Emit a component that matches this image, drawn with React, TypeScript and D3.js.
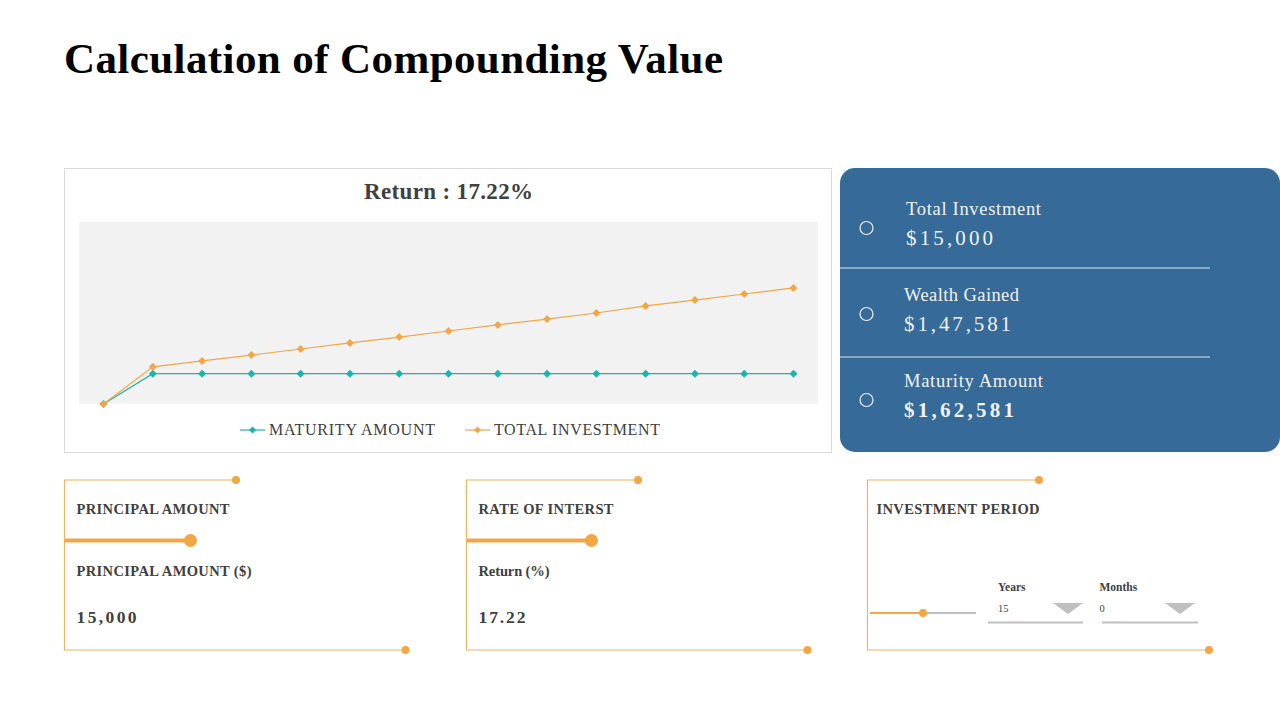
import React from 'react';
import * as d3 from 'd3';

// yearly values for the compounding chart
const years = [0, 1, 2, 3, 4, 5, 6, 7, 8, 9, 10, 11, 12, 13, 14];
const maturityAmount = [0, 15000, 15000, 15000, 15000, 15000, 15000, 15000, 15000, 15000, 15000, 15000, 15000, 15000, 15000];
const totalInvestment = [0, 18400, 21300, 24200, 27200, 30200, 33100, 36100, 39100, 42000, 45000, 48500, 51400, 54400, 57400];
const seriesNames = ['MATURITY AMOUNT', 'TOTAL INVESTMENT'];
const returnRate = '17.22';

const summaryLabels = ['Total Investment', 'Wealth Gained', 'Maturity Amount'];
const summaryValues = ['$15,000', '$1,47,581', '$1,62,581'];

const inputTitles = ['PRINCIPAL AMOUNT', 'RATE OF INTERST', 'INVESTMENT PERIOD'];
const inputLabels = ['PRINCIPAL AMOUNT ($)', 'Return (%)'];
const inputValues = ['15,000', '17.22'];
const periodYears = '15';
const periodMonths = '0';

const SERIF = '"Liberation Serif", "DejaVu Serif", serif';
const TEAL = '#1ab5ae';
const ORANGE = '#f2a646';
const LINE_ORANGE = '#f0b460';
const BLUE = '#356a99';
const TEXT = '#404040';

// widths the serif labels are spread to
const summaryLabelWidths = [135, 115, 139];
const summaryValueWidths = [87, 107, 110];
const titleWidths = [153, 135, 163];
const labelWidths = [175, 71];
const valueWidths = [60, 47];

const diamond = (cx: number, cy: number, r: number) =>
  `M${cx},${cy - r}L${cx + r},${cy}L${cx},${cy + r}L${cx - r},${cy}Z`;

function LineChart() {
  const plot = { x0: 79, x1: 818, y0: 222, y1: 404 };
  const x = d3.scaleLinear().domain([0, 14]).range([103.5, 793.5]);
  const y = d3.scaleLinear().domain([0, 90000]).range([plot.y1, plot.y0]);
  const line = d3.line<number>().x((_, i) => x(years[i])).y(d => y(d));
  const series = [
    { name: seriesNames[0], values: maturityAmount, color: TEAL },
    { name: seriesNames[1], values: totalInvestment, color: ORANGE },
  ];
  const legendX = [240, 465];

  return (
    <g>
      <rect x={64.5} y={168.5} width={767} height={284} fill="#fff" stroke="#d9d9d9" />
      <text x={364} y={199} fontFamily={SERIF} fontWeight="bold" fontSize={23} fill={TEXT} textLength={169}>
        Return : {returnRate}%
      </text>
      <rect x={plot.x0} y={plot.y0} width={plot.x1 - plot.x0} height={plot.y1 - plot.y0} fill="#f2f2f2" />
      {series.map(s => (
        <g key={s.name}>
          <path d={line(s.values) || ''} fill="none" stroke={s.color} strokeWidth={1.2} />
          {s.values.map((v, i) => (
            <path key={i} d={diamond(x(years[i]), y(v), 4)} fill={s.color} />
          ))}
        </g>
      ))}
      {series.map((s, i) => (
        <g key={'lg' + s.name}>
          <line x1={legendX[i]} x2={legendX[i] + 25} y1={430} y2={430} stroke={s.color} strokeWidth={1.2} />
          <path d={diamond(legendX[i] + 12.5, 430, 3.5)} fill={s.color} />
          <text x={legendX[i] + 29} y={435} fontFamily={SERIF} fontSize={16} fill={TEXT} textLength={166}>
            {s.name}
          </text>
        </g>
      ))}
    </g>
  );
}

function SummaryPanel() {
  const rowY = [228, 314, 400];
  return (
    <g>
      <rect x={840} y={168} width={440} height={284} rx={15} fill={BLUE} />
      {[268, 357].map(ly => (
        <line key={ly} x1={840} x2={1210} y1={ly} y2={ly} stroke="#dce6f0" strokeWidth={1.2} />
      ))}
      {summaryLabels.map((label, i) => (
        <g key={label}>
          <circle cx={866.5} cy={rowY[i]} r={6.5} fill="none" stroke="#f2f2f2" strokeWidth={1.2} />
          <text x={i === 0 ? 906 : 904} y={rowY[i] - 13} fontFamily={SERIF} fontSize={18.5} fill="#f2f2f2"
            textLength={summaryLabelWidths[i]}>
            {label}
          </text>
          <text x={i === 0 ? 906 : 904} y={rowY[i] + 17} fontFamily={SERIF} fontSize={21}
            fontWeight={i === 2 ? 'bold' : 'normal'} fill="#f2f2f2" textLength={summaryValueWidths[i]}>
            {summaryValues[i]}
          </text>
        </g>
      ))}
    </g>
  );
}

function InputFrame({ x0, topEnd, bottomEnd }: { x0: number; topEnd: number; bottomEnd: number }) {
  return (
    <g>
      <path d={`M${topEnd},480H${x0}V650H${bottomEnd}`} fill="none" stroke={LINE_ORANGE} strokeWidth={1.2} />
      <circle cx={topEnd} cy={480} r={4} fill={ORANGE} />
      <circle cx={bottomEnd} cy={650} r={4} fill={ORANGE} />
    </g>
  );
}

function InputCards() {
  const frames = [
    { x0: 64.5, topEnd: 236, bottomEnd: 405.5, knob: 190.5, tx: 76.5 },
    { x0: 466.5, topEnd: 638, bottomEnd: 807.5, knob: 591.5, tx: 478.5 },
    { x0: 867.5, topEnd: 1039, bottomEnd: 1209, knob: 0, tx: 876.5 },
  ];
  return (
    <g>
      {frames.map((f, i) => (
        <g key={i}>
          <InputFrame x0={f.x0} topEnd={f.topEnd} bottomEnd={f.bottomEnd} />
          <text x={f.tx} y={513.5} fontFamily={SERIF} fontWeight="bold" fontSize={14.5} fill={TEXT}
            textLength={titleWidths[i]}>
            {inputTitles[i]}
          </text>
          {i < 2 && (
            <g>
              <line x1={f.x0} x2={f.knob} y1={540.5} y2={540.5} stroke={ORANGE} strokeWidth={4} />
              <circle cx={f.knob} cy={540.5} r={6.5} fill={ORANGE} />
              <text x={f.tx} y={575.5} fontFamily={SERIF} fontWeight="bold" fontSize={14.5} fill={TEXT}
                textLength={labelWidths[i]}>
                {inputLabels[i]}
              </text>
              <text x={f.tx} y={623} fontFamily={SERIF} fontWeight="bold" fontSize={17.5} fill={TEXT}
                textLength={valueWidths[i]}>
                {inputValues[i]}
              </text>
            </g>
          )}
        </g>
      ))}
      {/* period slider and dropdowns */}
      <line x1={870} x2={923} y1={613} y2={613} stroke={ORANGE} strokeWidth={2} />
      <line x1={923} x2={976} y1={613} y2={613} stroke="#bfbfbf" strokeWidth={2} />
      <circle cx={923} cy={613} r={4} fill={ORANGE} />
      {[
        { x: 988, tx: 998, tri: 1053, end: 1083, title: 'Years', value: periodYears },
        { x: 1102, tx: 1099.5, tri: 1165, end: 1198, title: 'Months', value: periodMonths },
      ].map(d => (
        <g key={d.title}>
          <text x={d.tx} y={591} fontFamily={SERIF} fontWeight="bold" fontSize={11.5} fill={TEXT}>
            {d.title}
          </text>
          <text x={d.tx} y={611.5} fontFamily={SERIF} fontSize={10.5} fill={TEXT}>
            {d.value}
          </text>
          <path d={`M${d.tri},603H${d.tri + 30}L${d.tri + 15},614Z`} fill="#bfbfbf" />
          <line x1={d.x} x2={d.end} y1={622.5} y2={622.5} stroke="#bfbfbf" strokeWidth={2} />
        </g>
      ))}
    </g>
  );
}

export default function App() {
  return (
    <svg width={1280} height={720} style={{ position: 'absolute', left: 0, top: 0, background: '#fff' }}>
      <text x={64} y={73} fontFamily={SERIF} fontWeight="bold" fontSize={43} fill="#000" textLength={659}>
        Calculation of Compounding Value
      </text>
      <LineChart />
      <SummaryPanel />
      <InputCards />
    </svg>
  );
}
